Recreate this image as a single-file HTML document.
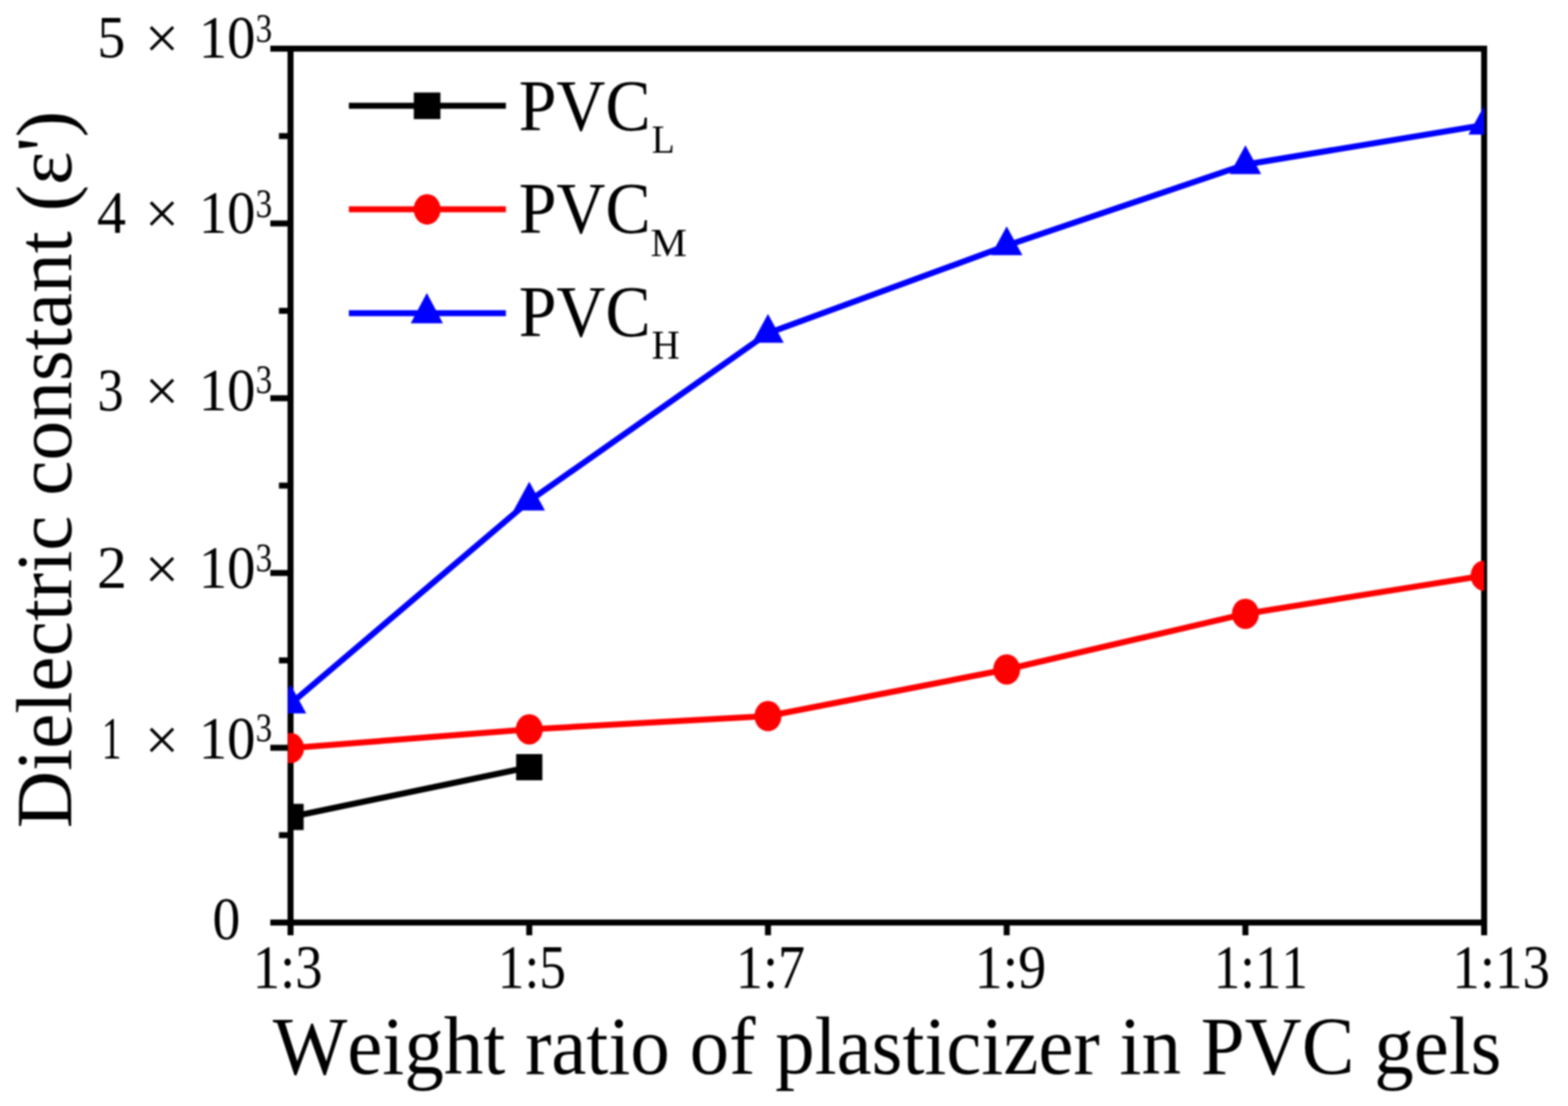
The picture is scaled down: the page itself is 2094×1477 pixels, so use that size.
<!DOCTYPE html><html><head><meta charset="utf-8"><title>Dielectric constant vs plasticizer ratio</title>
<style>html,body{margin:0;padding:0;background:#fff;}svg{display:block;filter:blur(0.9px);} text{font-family:'Liberation Serif','Times New Roman',serif;fill:#000;font-kerning:none;}</style></head><body>
<svg width="2094" height="1477" viewBox="0 0 2094 1477">
<rect width="2094" height="1477" fill="#fff"/>
<defs><clipPath id="pc"><rect x="384.50" y="61.50" width="1597.50" height="1174.00"/></clipPath></defs>
<g stroke="#000" stroke-width="8.0" fill="none">
<line x1="361" y1="1232.00" x2="388.0" y2="1232.00"/>
<line x1="361" y1="998.60" x2="388.0" y2="998.60"/>
<line x1="361" y1="765.20" x2="388.0" y2="765.20"/>
<line x1="361" y1="531.80" x2="388.0" y2="531.80"/>
<line x1="361" y1="298.40" x2="388.0" y2="298.40"/>
<line x1="361" y1="65.00" x2="388.0" y2="65.00"/>
<line x1="372.5" y1="1115.30" x2="388.0" y2="1115.30"/>
<line x1="372.5" y1="881.90" x2="388.0" y2="881.90"/>
<line x1="372.5" y1="648.50" x2="388.0" y2="648.50"/>
<line x1="372.5" y1="415.10" x2="388.0" y2="415.10"/>
<line x1="372.5" y1="181.70" x2="388.0" y2="181.70"/>
<line x1="388.00" y1="1232.0" x2="388.00" y2="1249"/>
<line x1="706.80" y1="1232.0" x2="706.80" y2="1249"/>
<line x1="1025.60" y1="1232.0" x2="1025.60" y2="1249"/>
<line x1="1344.40" y1="1232.0" x2="1344.40" y2="1249"/>
<line x1="1663.20" y1="1232.0" x2="1663.20" y2="1249"/>
<line x1="1982.00" y1="1232.0" x2="1982.00" y2="1249"/>
</g>
<rect x="388.0" y="65.0" width="1594.0" height="1167.0" fill="none" stroke="#000" stroke-width="8.0"/>
<g clip-path="url(#pc)">
<polyline points="388.00,1091.00 706.80,1024.50" fill="none" stroke="#000" stroke-width="8.0" stroke-linejoin="round"/>
<g fill="#000"><rect x="370.50" y="1073.50" width="35.00" height="35.00"/><rect x="689.30" y="1007.00" width="35.00" height="35.00"/></g>
<polyline points="388.00,999.00 706.80,974.00 1025.60,956.30 1344.40,894.00 1663.20,819.70 1982.00,768.70" fill="none" stroke="#f00" stroke-width="8.0" stroke-linejoin="round"/>
<g fill="#f00"><ellipse cx="388.00" cy="999.00" rx="18.00" ry="20.30"/><ellipse cx="706.80" cy="974.00" rx="18.00" ry="20.30"/><ellipse cx="1025.60" cy="956.30" rx="18.00" ry="20.30"/><ellipse cx="1344.40" cy="894.00" rx="18.00" ry="20.30"/><ellipse cx="1663.20" cy="819.70" rx="18.00" ry="20.30"/><ellipse cx="1982.00" cy="768.70" rx="18.00" ry="20.30"/></g>
<polyline points="388.00,940.00 706.80,669.00 1025.60,445.00 1344.40,328.00 1663.20,219.70 1982.00,167.00" fill="none" stroke="#00f" stroke-width="8.0" stroke-linejoin="round"/>
<g fill="#00f"><path d="M388.00,914.33L409.00,952.83L367.00,952.83Z"/><path d="M706.80,643.33L727.80,681.83L685.80,681.83Z"/><path d="M1025.60,419.33L1046.60,457.83L1004.60,457.83Z"/><path d="M1344.40,302.33L1365.40,340.83L1323.40,340.83Z"/><path d="M1663.20,194.03L1684.20,232.53L1642.20,232.53Z"/><path d="M1982.00,141.33L2003.00,179.83L1961.00,179.83Z"/></g>
</g>
<line x1="465.9" y1="141.3" x2="675.6" y2="141.3" stroke="#000" stroke-width="8.0"/>
<g fill="#000"><rect x="552.65" y="123.55" width="35.50" height="35.50"/></g>
<line x1="465.9" y1="279.6" x2="675.6" y2="279.6" stroke="#f00" stroke-width="8.0"/>
<g fill="#f00"><ellipse cx="570.40" cy="279.60" rx="18.00" ry="20.30"/></g>
<line x1="465.9" y1="418.3" x2="675.6" y2="418.3" stroke="#00f" stroke-width="8.0"/>
<g fill="#00f"><path d="M570.00,391.17L591.50,431.87L548.50,431.87Z"/></g>
<text transform="translate(692.69,173.60) scale(0.9261,1)" font-size="97.86">PVC</text>
<text transform="translate(870.24,204.10) scale(0.9572,1)" font-size="52.84">L</text>
<text transform="translate(692.69,310.70) scale(0.9276,1)" font-size="97.71">PVC</text>
<text transform="translate(868.73,342.20) scale(1.0368,1)" font-size="52.69">M</text>
<text transform="translate(692.69,448.90) scale(0.9276,1)" font-size="97.71">PVC</text>
<text transform="translate(870.20,479.00) scale(0.9476,1)" font-size="54.83">H</text>
<text transform="translate(130.06,76.90) scale(0.9202,1)" font-size="81.20">5</text>
<text transform="translate(193.52,78.40) scale(0.9931,1)" font-size="81.20">×</text>
<text transform="translate(265.44,76.90) scale(0.9327,1)" font-size="81.20">10</text>
<text transform="translate(341.50,56.10) scale(0.7958,1)" font-size="55.06">3</text>
<text transform="translate(129.48,310.90) scale(0.9564,1)" font-size="81.20">4</text>
<text transform="translate(193.52,312.40) scale(0.9931,1)" font-size="81.20">×</text>
<text transform="translate(265.44,310.90) scale(0.9327,1)" font-size="81.20">10</text>
<text transform="translate(341.50,290.10) scale(0.7958,1)" font-size="55.06">3</text>
<text transform="translate(130.36,547.90) scale(0.8586,1)" font-size="81.20">3</text>
<text transform="translate(193.52,549.40) scale(0.9931,1)" font-size="81.20">×</text>
<text transform="translate(265.44,547.90) scale(0.9327,1)" font-size="81.20">10</text>
<text transform="translate(341.50,525.10) scale(0.7958,1)" font-size="55.06">3</text>
<text transform="translate(129.48,785.20) scale(0.9861,1)" font-size="81.20">2</text>
<text transform="translate(193.52,786.70) scale(0.9931,1)" font-size="81.20">×</text>
<text transform="translate(265.44,785.20) scale(0.9327,1)" font-size="81.20">10</text>
<text transform="translate(341.50,762.80) scale(0.7958,1)" font-size="55.06">3</text>
<text transform="translate(135.73,1013.20) scale(0.6541,1)" font-size="81.20">1</text>
<text transform="translate(193.52,1014.70) scale(0.9931,1)" font-size="81.20">×</text>
<text transform="translate(265.44,1013.20) scale(0.9327,1)" font-size="81.20">10</text>
<text transform="translate(341.50,989.80) scale(0.7958,1)" font-size="55.06">3</text>
<text transform="translate(283.87,1254.30) scale(0.9153,1)" font-size="81.20">0</text>
<text transform="translate(337.49,1319.00) scale(0.8839,1)" font-size="82.58">1:3</text>
<text transform="translate(664.85,1319.00) scale(0.8607,1)" font-size="82.58">1:5</text>
<text transform="translate(982.84,1319.00) scale(0.8761,1)" font-size="82.58">1:7</text>
<text transform="translate(1301.40,1319.00) scale(0.9096,1)" font-size="82.58">1:9</text>
<text transform="translate(1621.00,1319.00) scale(0.8545,1)" font-size="82.58">1:11</text>
<text transform="translate(1939.56,1319.00) scale(0.8876,1)" font-size="82.58">1:13</text>
<text transform="translate(364.20,1433.60) scale(0.9534,1)" font-size="110.69">Weight ratio of plasticizer in PVC gels</text>
<text transform="translate(95.2,1106.05) rotate(-90) scale(1.0059,1)" font-size="105.34">Dielectric constant (ε')</text>
</svg></body></html>
